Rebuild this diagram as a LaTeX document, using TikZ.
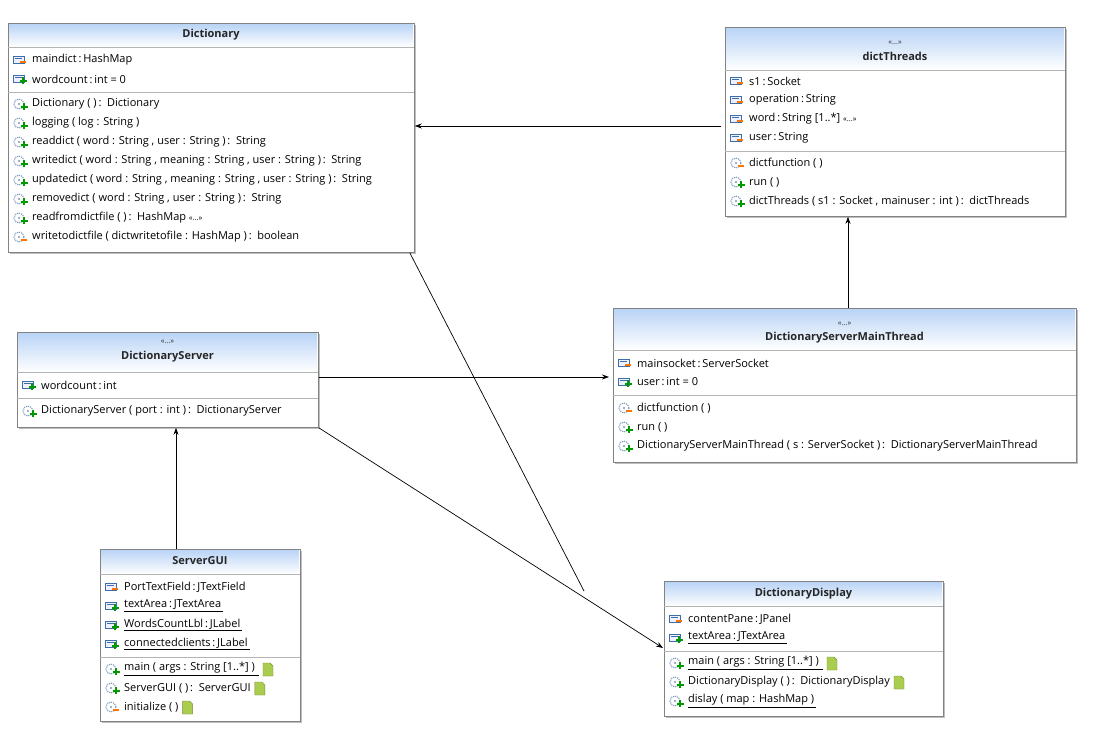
\documentclass[tikz,border=0pt]{standalone}
\usepackage{fontspec}
\setmainfont{Open Sans}
\usetikzlibrary{arrows.meta,calc}
\definecolor{hdrtop}{RGB}{186,212,246}
\definecolor{boxln}{RGB}{130,130,130}
\definecolor{icb}{RGB}{60,110,170}
\definecolor{mico}{RGB}{120,150,190}
\definecolor{notec}{RGB}{170,205,80}
\tikzset{
 box/.style={draw=boxln,fill=white,anchor=north west,inner sep=0pt,line width=0.8pt},
 row/.style={anchor=west,inner sep=0pt,font=\fontsize{11}{13}\selectfont},
 ttl/.style={inner sep=0pt,font=\fontsize{11}{13}\selectfont\bfseries,text=black!85},
 ster/.style={inner sep=0pt,font=\fontsize{7.5}{8}\selectfont,text=black!80},
 arr/.style={-{Stealth[length=7pt,width=5pt]},line width=0.7pt},
 con/.style={line width=0.7pt}
}
\newcommand\mk[3]{%
 \if#3m\fill[orange!90!red] (#1+1,#2+2.5) rectangle (#1+7,#2+4.5);%
 \else\fill[green!60!black] (#1+3,#2) rectangle (#1+5,#2+7);\fill[green!60!black] (#1+0.5,#2+2.5) rectangle (#1+7.5,#2+4.5);\fi}
\newcommand\frow[4]{%
 \draw[icb,fill=blue!6,line width=0.6pt] (#1+5,#2-4) rectangle (#1+16,#2+3);
 \draw[icb,line width=0.6pt] (#1+7,#2-1.5) -- (#1+14,#2-1.5);
 \mk{#1+11}{#2-2}{#3}
 \node[row] at (#1+24,#2) {#4};}
\newcommand\mrow[4]{%
 \draw[mico,densely dotted,line width=1.1pt] (#1+11,#2) circle (5);
 \fill[mico] (#1+11,#2) circle (1.2);
 \mk{#1+12}{#2-1}{#3}
 \node[row] (tmp) at (#1+24,#2) {#4};}
\newcommand\note{\fill[notec,draw=notec!70!black,line width=0.4pt] ($(tmp.east)+(4,-6)$) -- ++(7,0) -- ++(3,3) -- ++(0,10) -- ++(-10,0) -- cycle;}
\newcommand\hdr[4]{\shade[top color=hdrtop,bottom color=white] (#1+1,#2+1) rectangle (#3-1,#4);
 \draw[boxln!60,line width=0.8pt] (#1,#4) -- (#3,#4);}
\newcommand\sep[3]{\draw[boxln!60,line width=0.8pt] (#1,#3) -- (#2,#3);}
\newcommand\shadow[4]{\draw[black!25,line width=1.5pt] (#1+2,#4+1) -- (#3+1,#4+1) -- (#3+1,#2+2);}
\newcommand\st{{\fontsize{7.5}{8}\selectfont«...»}}
\begin{document}
\begin{tikzpicture}[x=1pt,y=-1pt]
\useasboundingbox (0,0) rectangle (1118,750);
\fill[white] (0,0) rectangle (1118,750);
% ---------- Dictionary
\shadow{8}{23}{414}{252}
\node[box,minimum width=406pt,minimum height=229pt] (dict) at (8,23) {};
\hdr{8}{23}{414}{47}
\node[ttl] at (211,35) {Dictionary};
\frow{8}{60}{m}{maindict\,:\,HashMap}
\frow{8}{79}{p}{wordcount\,:\,int = 0}
\sep{8}{414}{92}
\mrow{8}{104}{p}{Dictionary ( )\,:\, Dictionary}
\mrow{8}{123}{p}{logging ( log : String )}
\mrow{8}{142}{p}{readdict ( word : String , user : String )\,:\, String}
\mrow{8}{161}{p}{writedict ( word : String , meaning : String , user : String )\,:\, String}
\mrow{8}{180}{p}{updatedict ( word : String , meaning : String , user : String )\,:\, String}
\mrow{8}{199}{p}{removedict ( word : String , user : String )\,:\, String}
\mrow{8}{218}{p}{readfromdictfile ( )\,:\, HashMap \st}
\mrow{8}{237}{m}{writetodictfile ( dictwritetofile : HashMap )\,:\, boolean}
% ---------- dictThreads
\shadow{725}{27}{1065}{216}
\node[box,minimum width=340pt,minimum height=189pt] (dt) at (725,27) {};
\hdr{725}{27}{1065}{70}
\node[ster] at (895,43) {«...»};
\node[ttl] at (895,56) {dictThreads};
\frow{725}{81}{m}{s1\,:\,Socket}
\frow{725}{100}{m}{operation\,:\,String}
\frow{725}{119}{m}{word\,:\,String [1..*] \st}
\frow{725}{138}{m}{user\,:\,String}
\sep{725}{1065}{151}
\mrow{725}{163}{m}{dictfunction ( )}
\mrow{725}{182}{p}{run ( )}
\mrow{725}{201}{p}{dictThreads ( s1 : Socket , mainuser : int )\,:\, dictThreads}
% ---------- DictionaryServerMainThread
\shadow{613}{308}{1076}{462}
\node[box,minimum width=463pt,minimum height=154pt] (dsmt) at (613,308) {};
\hdr{613}{308}{1076}{350}
\node[ster] at (844.5,324) {«...»};
\node[ttl] at (844.5,338) {DictionaryServerMainThread};
\frow{613}{363}{m}{mainsocket\,:\,ServerSocket}
\frow{613}{382}{p}{user\,:\,int = 0}
\sep{613}{1076}{395}
\mrow{613}{408}{m}{dictfunction ( )}
\mrow{613}{427}{p}{run ( )}
\mrow{613}{446}{p}{DictionaryServerMainThread ( s : ServerSocket )\,:\, DictionaryServerMainThread}
% ---------- DictionaryServer
\shadow{17}{332}{318}{427}
\node[box,minimum width=301pt,minimum height=95pt] (ds) at (17,332) {};
\hdr{17}{332}{318}{372}
\node[ster] at (167.5,342) {«...»};
\node[ttl] at (167.5,357) {DictionaryServer};
\frow{17}{385}{p}{wordcount\,:\,int}
\sep{17}{318}{398}
\mrow{17}{411}{p}{DictionaryServer ( port : int )\,:\, DictionaryServer}
% ---------- ServerGUI
\shadow{100}{549}{300}{721}
\node[box,minimum width=200pt,minimum height=172pt] (gui) at (100,549) {};
\hdr{100}{549}{300}{574}
\node[ttl] at (200,561) {ServerGUI};
\frow{100}{587}{m}{PortTextField\,:\,JTextField}
\frow{100}{606}{p}{\underline{textArea\,:\,JTextArea\,}}
\frow{100}{625}{p}{\underline{WordsCountLbl\,:\,JLabel\,}}
\frow{100}{644}{p}{\underline{connectedclients\,:\,JLabel\,}}
\sep{100}{300}{657}
\mrow{100}{669}{p}{\underline{main ( args : String [1..*] )\hspace{4pt}}}
\note
\mrow{100}{688}{p}{ServerGUI ( )\,:\, ServerGUI}
\note
\mrow{100}{707}{m}{initialize ( )}
\note
% ---------- DictionaryDisplay
\shadow{664}{581}{943}{716}
\node[box,minimum width=279pt,minimum height=135pt] (dd) at (664,581) {};
\hdr{664}{581}{943}{606}
\node[ttl] at (803.5,594) {DictionaryDisplay};
\frow{664}{619}{m}{contentPane\,:\,JPanel}
\frow{664}{638}{p}{\underline{textArea\,:\,JTextArea\,}}
\sep{664}{943}{651}
\mrow{664}{663}{p}{\underline{main ( args : String [1..*] )\hspace{4pt}}}
\note
\mrow{664}{682}{p}{DictionaryDisplay ( )\,:\, DictionaryDisplay}
\note
\mrow{664}{701}{p}{\underline{dislay ( map : HashMap )\,}}
% ---------- connectors
\coordinate (lineEnd) at (584,591);
\coordinate (guiTop) at ($(gui.north west)+(76,0)$);
\coordinate (dtLeft) at ($(dt.north west)+(-4,99)$);
\coordinate (dsmtTop) at ($(dsmt.north west)+(235,0)$);
\coordinate (dsRight) at ($(ds.north east)+(0,45)$);
\coordinate (ddLeft) at ($(dd.north west)+(-1,67)$);
\draw[arr] (dtLeft) -- (dtLeft -| dict.east);
\draw[arr] (dsmtTop) -- (dsmtTop |- dt.south);
\draw[arr] (dsRight) -- ([xshift=-4pt]dsRight -| dsmt.west);
\draw[arr] (guiTop) -- (guiTop |- ds.south);
\draw[arr] (ds.south east) -- (ddLeft);
\draw[con] ([xshift=-5pt]dict.south east) -- (lineEnd);
\end{tikzpicture}
\end{document}
